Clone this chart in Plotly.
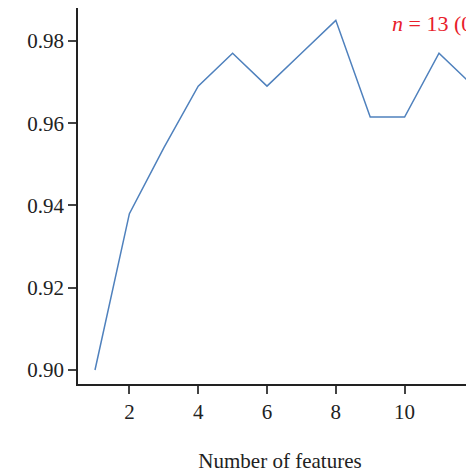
import plotly.graph_objects as go

n_features = [1, 2, 3, 4, 5, 6, 7, 8, 9, 10, 11, 12, 13]
accuracy = [0.900, 0.938, 0.954, 0.969, 0.977, 0.969, 0.977, 0.985, 0.9615, 0.9615, 0.977, 0.969, 0.985]
x_ticks = [2, 4, 6, 8, 10, 12]
y_ticks = [0.90, 0.92, 0.94, 0.96, 0.98]

fig = go.Figure(go.Scatter(x=n_features, y=accuracy, mode="lines", cliponaxis=True,
                           line=dict(color="#4f81bd", width=1.5)))
font = dict(family="Liberation Serif", size=21, color="#222")
fig.add_annotation(x=9.58, y=0.9843, xanchor="left", yanchor="middle", showarrow=False,
                   text="<i>n</i> = 13 (0.985)", font=dict(family="Liberation Serif", size=22, color="#e8202a"))
fig.update_layout(
    width=474, height=474, margin=dict(l=70, r=0, t=0, b=98, autoexpand=False),
    plot_bgcolor="white", paper_bgcolor="white", showlegend=False, font=font,
    xaxis=dict(range=[0.506, 12.25], tickvals=x_ticks, ticks="outside", ticklen=8, tickwidth=1.5,
               showline=True, linecolor="#222", linewidth=1.5, showgrid=False, zeroline=False,
               automargin=False, title=dict(text="Number of features", standoff=30, font=font)),
    yaxis=dict(range=[0.8966, 0.988], tickvals=y_ticks, tickformat=".2f", ticks="outside",
               ticklen=8, tickwidth=1.5, showline=True, linecolor="#222", linewidth=1.5,
               showgrid=False, zeroline=False, automargin=False),
)
fig.write_html("out.html")
